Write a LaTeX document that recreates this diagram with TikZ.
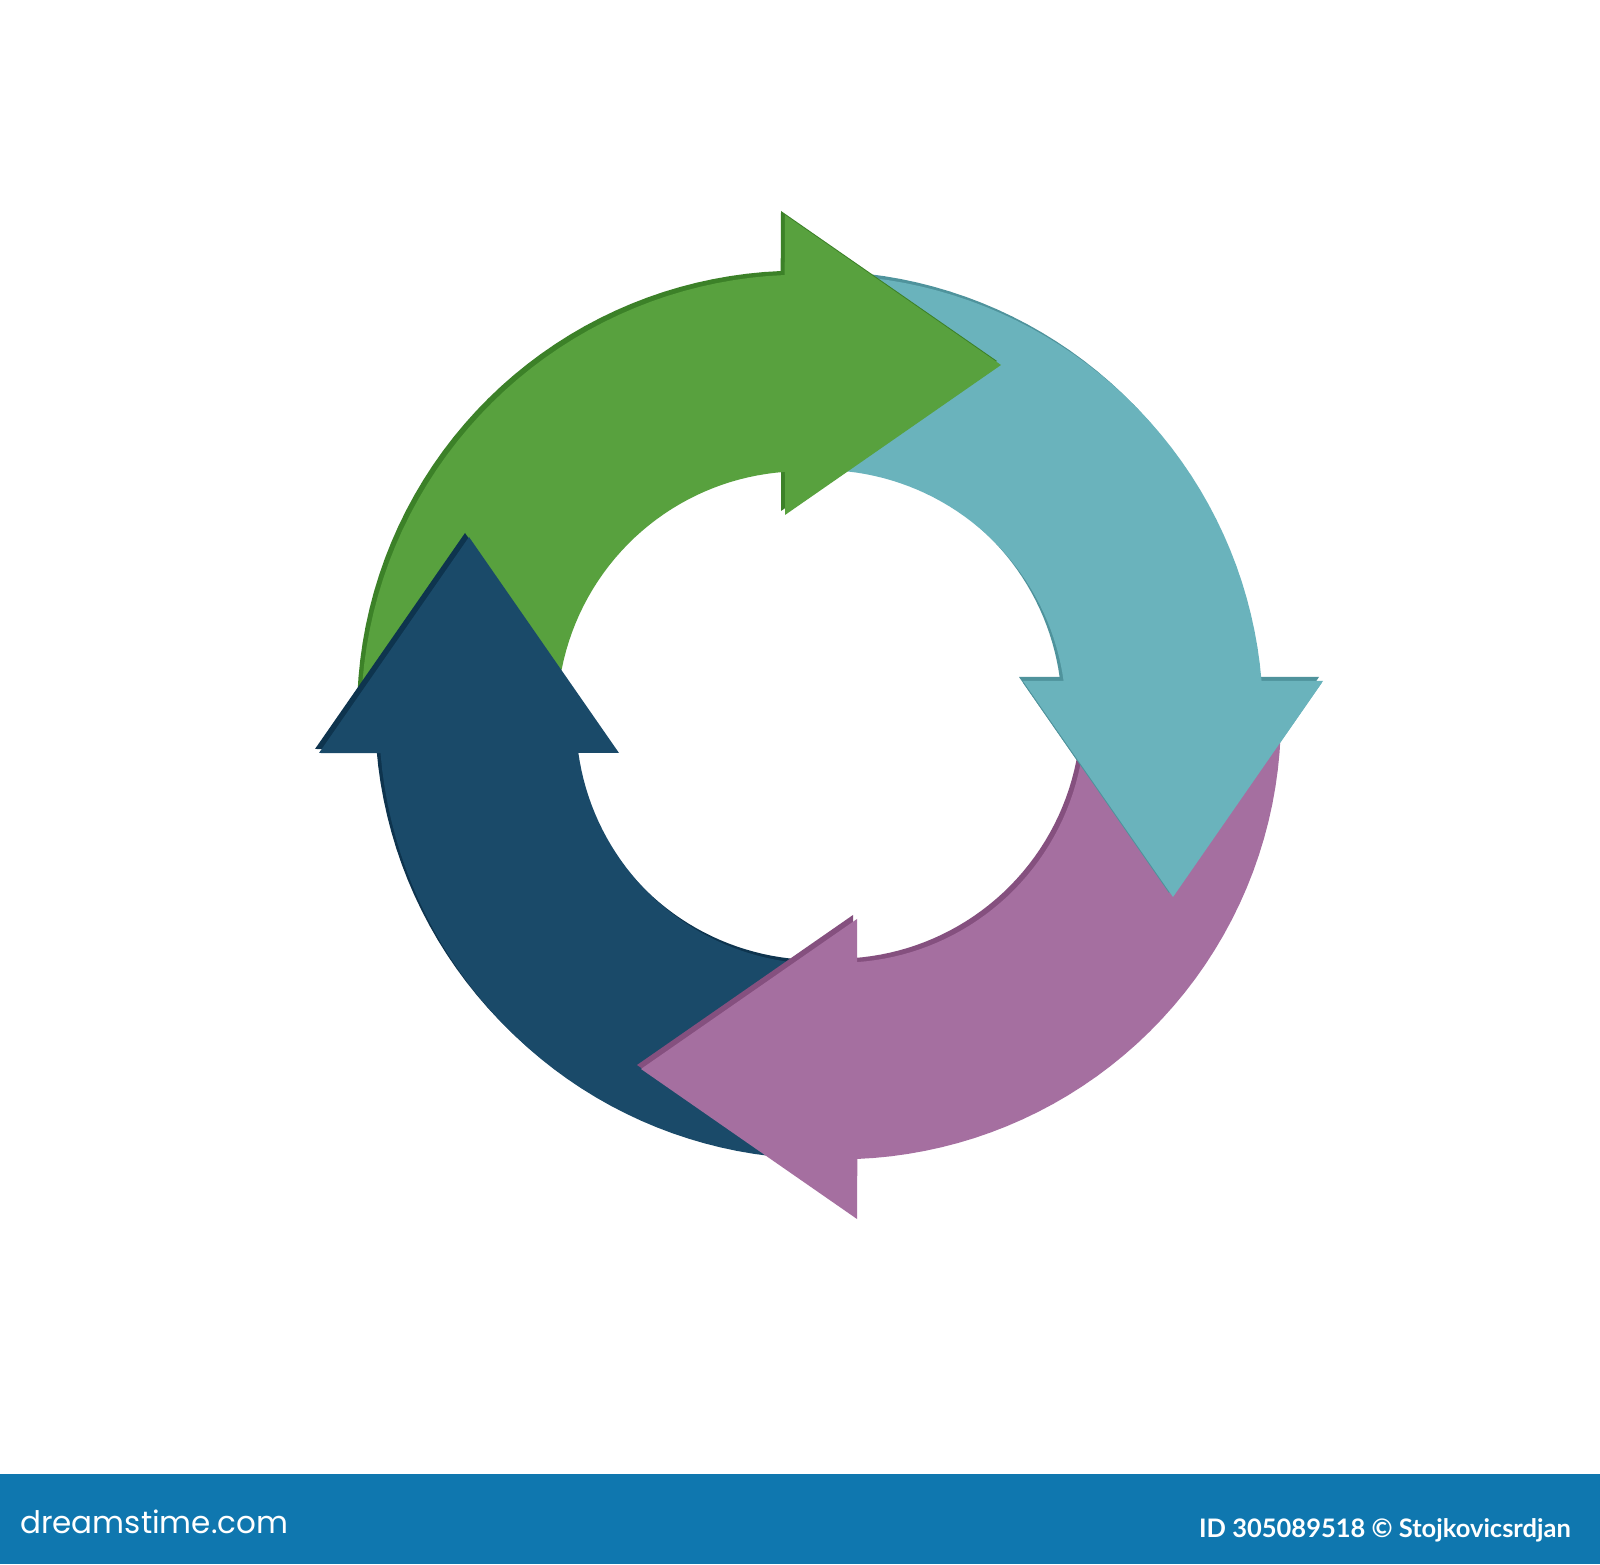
\documentclass[tikz,border=0pt]{standalone}
\usepackage{fontspec}
\newfontfamily\logofont{Poppins}
\newfontfamily\creditfont{Lato}

\definecolor{ringgreen}{HTML}{58A13E}
\definecolor{ringgreendark}{HTML}{3C8128}
\definecolor{ringteal}{HTML}{6AB3BC}
\definecolor{ringtealdark}{HTML}{4F939C}
\definecolor{ringpurple}{HTML}{A56FA0}
\definecolor{ringpurpledark}{HTML}{85507F}
\definecolor{ringblue}{HTML}{1A4A69}
\definecolor{ringbluedark}{HTML}{0E344E}
\definecolor{barblue}{HTML}{0F77AF}

% one arrow of the ring, drawn for the top (green) position;
% #1, #2 = outer and inner radius at the tail
\newcommand\ringarrow[2]{plot[domain=180:94.7,samples=40] (\x:{442+(#1-442)*(-cos(\x))})
  -- (-36,502) -- (180,352) -- (-36,202) -- (-36,242.3)
  -- plot[domain=98.4:180,samples=40] (\x:{245+(#2-245)*(-cos(\x))}) -- cycle}

\tikzset{
  shade/.style={shift={(-4,4)}},
  bartext/.style={inner sep=0pt,text=white}
}

\begin{document}
\begin{tikzpicture}[x=1pt,y=1pt]
  \useasboundingbox (0,0) rectangle (1600,1564);
  \fill[white] (0,0) rectangle (1600,1564);

  \begin{scope}[shift={(821,847)}]
    % teal, green, blue, purple
    \fill[ringtealdark,shade,rotate=-90] \ringarrow{442}{247};
    \fill[ringteal,rotate=-90] \ringarrow{442}{247};
    \fill[ringgreendark,shade] \ringarrow{460}{264};
    \fill[ringgreen] \ringarrow{460}{264};
    \fill[ringbluedark,shade,rotate=90] \ringarrow{442}{247};
    \fill[ringblue,rotate=90] \ringarrow{442}{247};
    \fill[ringpurpledark,shade,rotate=180] \ringarrow{460}{264};
    \fill[ringpurple,rotate=180] \ringarrow{460}{264};
    % teal head again, over the purple tail
    \begin{scope}
      \clip (0,33) rectangle (600,-600);
      \fill[ringtealdark,shade,rotate=-90] \ringarrow{442}{247};
      \fill[ringteal,rotate=-90] \ringarrow{442}{247};
    \end{scope}
  \end{scope}

  % bottom bar
  \fill[barblue] (0,0) rectangle (1600,90);
  \node[bartext,anchor=base west,font=\logofont\fontsize{31}{36}\selectfont] (site) at (20,31) {dreamstime.com};
  \node[bartext,anchor=base east,font=\creditfont\bfseries\fontsize{25.5}{30}\selectfont] (credit) at (1571,27) {ID 305089518 © Stojkovicsrdjan};
\end{tikzpicture}
\end{document}
